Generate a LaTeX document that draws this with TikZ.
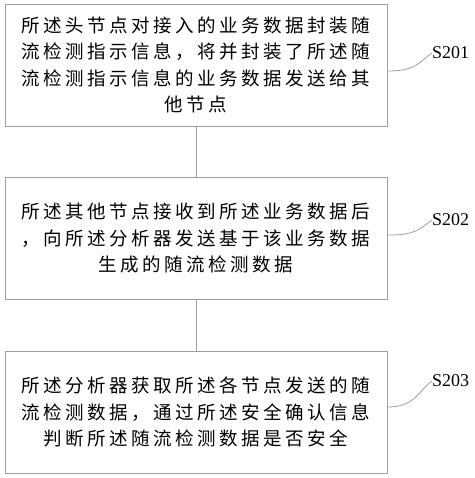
\documentclass[tikz,border=0pt]{standalone}
\usepackage{fontspec}
\setmainfont{Liberation Serif}
\newfontfamily\cjk[LetterSpace=19]{Noto Sans CJK SC}
\usetikzlibrary{positioning, calc}

\begin{document}
\begin{tikzpicture}[x=1pt, y=-1pt,
    stepbox/.style={draw=gray!75, line width=0.9pt, minimum width=382pt, minimum height=122pt,
        inner sep=0pt, align=center, font=\cjk\fontsize{18.5}{26.5}\selectfont},
    steplabel/.style={anchor=west, inner sep=0pt, font=\fontsize{18}{18}\selectfont},
    link/.style={draw=gray!75, line width=0.8pt}]
    \useasboundingbox (0,0) rectangle (474,478);

    % Steps of the flow
    \node[stepbox] (s201) at (196,65) {所述头节点对接入的业务数据封装随\\流检测指示信息，将并封装了所述随\\流检测指示信息的业务数据发送给其\\他节点};
    \node[stepbox] (s202) at (196,238.5) {所述其他节点接收到所述业务数据后\\，向所述分析器发送基于该业务数据\\生成的随流检测数据};
    \node[stepbox] (s203) at (196,412) {所述分析器获取所述各节点发送的随\\流检测数据，通过所述安全确认信息\\判断所述随流检测数据是否安全};

    % Step numbers
    \node[steplabel] (l201) at (432,53) {S201};
    \node[steplabel] (l202) at (432,220) {S202};
    \node[steplabel] (l203) at (432,381) {S203};

    % Vertical links
    \draw[link] (s201) -- (s202);
    \draw[link] (s202) -- (s203);

    % Leaders to the step numbers
    \foreach \n/\dy in {201/6, 202/-3.5, 203/-5} {
        \draw[link] ([shift={(0,\dy)}]s\n.east) .. controls +(28,0) and +(-14,10) .. (l\n.west);
    }
\end{tikzpicture}
\end{document}
